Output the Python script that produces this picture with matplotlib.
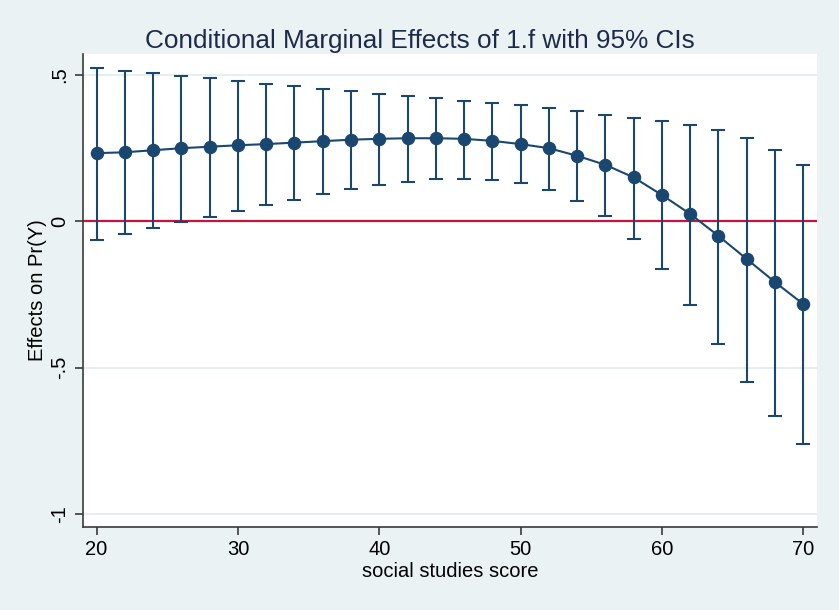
import matplotlib
matplotlib.use("Agg")
import matplotlib.pyplot as plt

plt.rcParams['font.family'] = ['Liberation Sans', 'DejaVu Sans']

# Data
score = [20, 22, 24, 26, 28, 30, 32, 34, 36, 38, 40, 42, 44,
         46, 48, 50, 52, 54, 56, 58, 60, 62, 64, 66, 68, 70]
effect = [0.233, 0.236, 0.243, 0.250, 0.255, 0.260, 0.264, 0.269, 0.274,
          0.279, 0.282, 0.284, 0.284, 0.282, 0.275, 0.264, 0.250, 0.224,
          0.193, 0.150, 0.090, 0.025, -0.050, -0.129, -0.208, -0.283]
ci_upper = [0.524, 0.515, 0.508, 0.498, 0.489, 0.479, 0.470, 0.461, 0.453,
            0.444, 0.436, 0.428, 0.421, 0.413, 0.405, 0.396, 0.386, 0.376,
            0.363, 0.352, 0.342, 0.330, 0.313, 0.284, 0.244, 0.192]
ci_lower = [-0.063, -0.042, -0.024, -0.002, 0.016, 0.035, 0.056, 0.074, 0.092,
            0.110, 0.124, 0.136, 0.143, 0.145, 0.141, 0.130, 0.107, 0.071,
            0.017, -0.062, -0.163, -0.286, -0.419, -0.550, -0.667, -0.761]
x_ticks = [20, 30, 40, 50, 60, 70]
y_ticks = [-1, -0.5, 0, 0.5]
y_ticklabels = ["-1", "-.5", "0", ".5"]

bg = '#EAF2F3'
navy = '#1A476F'

fig = plt.figure(figsize=(8.39, 6.10), dpi=100, facecolor=bg)
ax = fig.add_axes([0.0989, 0.136, 0.8749, 0.7755])
ax.set_facecolor('white')

yerr = [[e - lo for e, lo in zip(effect, ci_lower)],
        [hi - e for e, hi in zip(effect, ci_upper)]]

for y in y_ticks:
    ax.axhline(y, color='#E2ECEE', lw=1.2, zorder=0)
ax.axhline(0, color='#C8143C', lw=1.6, zorder=1)

ax.errorbar(score, effect, yerr=yerr, fmt='o-', color=navy, ecolor=navy,
            lw=1.5, elinewidth=1.5, capsize=5, capthick=1.5,
            markersize=8.7, zorder=3)

ax.set_xlim(19.04, 70.97)
ax.set_ylim(-1.045, 0.572)
ax.set_xticks(x_ticks)
ax.set_yticks(y_ticks)
ax.set_yticklabels(y_ticklabels, rotation=90, va='center')

for s in ['top', 'right']:
    ax.spines[s].set_visible(False)
for s in ['left', 'bottom']:
    ax.spines[s].set_color('#3A3A3A')
    ax.spines[s].set_linewidth(1.2)
ax.tick_params(axis='both', length=6, width=1.2, color='#3A3A3A',
               labelsize=14.5, labelcolor='black')
ax.tick_params(axis='y', pad=4)

ax.set_xlabel('social studies score', fontsize=14.5, labelpad=2)
ax.set_ylabel('Effects on Pr(Y)', fontsize=14.5, labelpad=2)
fig.text(0.5, 0.921, 'Conditional Marginal Effects of 1.f with 95% CIs',
         ha='center', va='baseline', fontsize=18.8, color='#1E2A4A')

fig.savefig('out.png', dpi=100, facecolor=bg)
